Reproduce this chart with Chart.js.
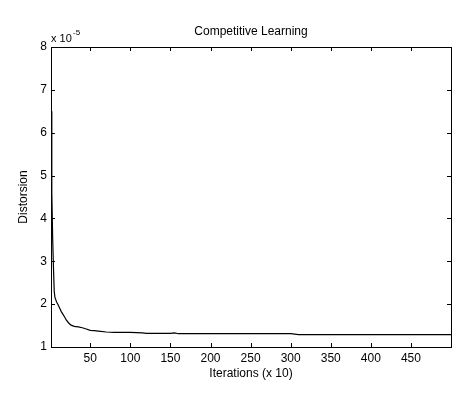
<!DOCTYPE html><html><head><script src="https://cdn.jsdelivr.net/npm/chart.js@4"></script>
<style>body{margin:0;background:#fff}canvas{display:block}</style></head><body>
<div style="width:474px;height:402px"><canvas id="c"></canvas></div>
<script>
const iterations=[1,2,3,4,5,6,8,10,12,14,16,18,20,23,26,30,35,40,45,50,55,60,70,80,100,115,120,150,155,160,200,250,300,310,350,400,450,500];
const distortion=[6.5,4.6,3.6,2.9,2.3,2.15,2.05,1.98,1.9,1.82,1.76,1.7,1.63,1.56,1.51,1.48,1.47,1.45,1.42,1.39,1.38,1.37,1.35,1.34,1.34,1.33,1.32,1.32,1.33,1.31,1.31,1.31,1.31,1.29,1.29,1.29,1.29,1.29];
const xTicks=[50,100,150,200,250,300,350,400,450];
const yTicks=[1,2,3,4,5,6,7,8];
const F='"Liberation Sans", Arial, sans-serif';
const deco={id:'deco',afterDraw(ch){const c=ch.ctx,a=ch.chartArea,x=ch.scales.x,y=ch.scales.y;c.save();
c.strokeStyle='#000';c.lineWidth=1;c.strokeRect(a.left+0.5,a.top+0.5,a.right-a.left,a.bottom-a.top);
c.beginPath();xTicks.forEach(v=>{const p=Math.round(x.getPixelForValue(v))+0.5;c.moveTo(p,a.bottom);c.lineTo(p,a.bottom-4);c.moveTo(p,a.top);c.lineTo(p,a.top+4);});
yTicks.forEach(v=>{const p=Math.round(y.getPixelForValue(v))+0.5;c.moveTo(a.left,p);c.lineTo(a.left+4,p);c.moveTo(a.right,p);c.lineTo(a.right-4,p);});c.stroke();
c.fillStyle='#000';c.font='12px '+F;c.textAlign='center';c.textBaseline='top';
xTicks.forEach(v=>c.fillText(String(v),x.getPixelForValue(v),353));
c.textAlign='right';c.textBaseline='middle';yTicks.forEach(v=>c.fillText(String(v),a.left-4,y.getPixelForValue(v)));
c.textAlign='center';c.textBaseline='top';c.fillText('Iterations (x 10)',(a.left+a.right)/2,368);
c.fillText('Competitive Learning',(a.left+a.right)/2,26);
c.save();c.translate(24,(a.top+a.bottom)/2);c.rotate(-Math.PI/2);c.fillText('Distorsion',0,-6);c.restore();
c.textAlign='left';c.textBaseline='alphabetic';c.font='11px '+F;c.fillText('x 10',51,42);c.font='8px '+F;c.fillText('-5',73,35);
c.restore();}};
new Chart(document.getElementById('c'),{type:'line',data:{datasets:[{data:iterations.map((v,i)=>({x:v,y:distortion[i]})),borderColor:'#000',borderWidth:1.2,pointRadius:0,tension:0}]},
options:{responsive:true,maintainAspectRatio:false,animation:false,events:[],layout:{padding:{left:51,top:47,right:23,bottom:55}},
plugins:{legend:{display:false},tooltip:{enabled:false}},
scales:{x:{type:'linear',min:1,max:500,display:false},y:{min:1,max:8,display:false}}},plugins:[deco]});
</script></body></html>
